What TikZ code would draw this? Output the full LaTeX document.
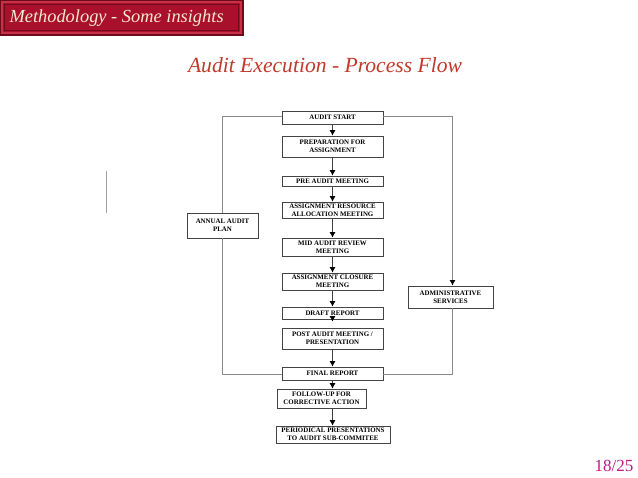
\documentclass[tikz,border=0pt]{standalone}
\usepackage{fontspec}
\setmainfont{Liberation Serif}
\usetikzlibrary{arrows.meta}
\definecolor{barred}{HTML}{A8102C}
\definecolor{bardark}{HTML}{6E0A1C}
\definecolor{barlight}{HTML}{C8304A}
\definecolor{cream}{HTML}{F6E8CC}
\definecolor{titlered}{HTML}{C0392B}
\definecolor{pagemag}{HTML}{C0168C}
\definecolor{linegray}{HTML}{8A8A8A}
\definecolor{boxgray}{HTML}{444444}
\tikzset{
  flowbox/.style={draw=boxgray, line width=0.8pt, fill=white, rectangle, inner sep=0pt,
    align=center, font=\fontsize{6.9}{7.8}\selectfont\bfseries, text=black},
  flowarrow/.style={draw=black!75, line width=0.7pt, -{Latex[length=5.5pt,width=6pt,color=black]}},
  sideline/.style={draw=linegray, line width=1pt},
  sidearrow/.style={draw=linegray, line width=1pt, -{Latex[length=5.5pt,width=6pt,color=black]}},
}
\begin{document}
\begin{tikzpicture}[x=1pt,y=-1pt]
\useasboundingbox (0,0) rectangle (638,478);
% header bar
\fill[bardark] (0,0) rectangle (244,36);
\fill[barlight] (1,1) rectangle (242,34);
\fill[barred] (3,3) rectangle (240,32);
\draw[bardark, line width=0.8pt] (4.5,4.5) rectangle (238.5,30.5);
\node[anchor=west, text=cream, font=\fontsize{18.4}{22}\selectfont\itshape] (hdr) at (6,18) {Methodology - Some insights};
% title
\node[text=titlered, font=\fontsize{21.6}{26}\selectfont\itshape] (title) at (325,65) {Audit Execution - Process Flow};
% page number
\node[anchor=east, text=pagemag, font=\fontsize{17}{20}\selectfont] (pg) at (637,466) {18/25};
% stray gray line
\draw[linegray!80, line width=1pt] (106,171) -- (106,213);
% main column
\node[flowbox, minimum width=101pt, minimum height=13pt] (start) at (332.5,117.5) {AUDIT START};
\node[flowbox, minimum width=101pt, minimum height=21pt] (prep) at (332.5,146.5) {PREPARATION FOR\\ASSIGNMENT};
\node[flowbox, minimum width=101pt, minimum height=10pt] (pre) at (332.5,181) {PRE AUDIT MEETING};
\node[flowbox, minimum width=101pt, minimum height=16pt] (alloc) at (332.5,210) {ASSIGNMENT RESOURCE\\ALLOCATION MEETING};
\node[flowbox, minimum width=101pt, minimum height=18pt] (mid) at (332.5,247) {MID AUDIT REVIEW\\MEETING};
\node[flowbox, minimum width=101pt, minimum height=17pt] (close) at (332.5,281.5) {ASSIGNMENT CLOSURE\\MEETING};
\node[flowbox, minimum width=101pt, minimum height=12pt] (draft) at (332.5,313) {DRAFT REPORT};
\node[flowbox, minimum width=101pt, minimum height=21pt] (post) at (332.5,338.5) {POST AUDIT MEETING /\\PRESENTATION};
\node[flowbox, minimum width=101pt, minimum height=13pt] (final) at (332.5,373.5) {FINAL REPORT};
\node[flowbox, minimum width=89pt, minimum height=19pt] (follow) at (321.5,398.5) {FOLLOW-UP FOR\\CORRECTIVE ACTION};
\node[flowbox, minimum width=114pt, minimum height=17pt] (period) at (333,434.5) {PERIODICAL PRESENTATIONS\\TO AUDIT SUB-COMMITEE};
% side boxes
\node[flowbox, minimum width=71pt, minimum height=25pt] (annual) at (222.5,225.5) {ANNUAL AUDIT\\PLAN};
\node[flowbox, minimum width=85pt, minimum height=22pt] (admin) at (450.5,297) {ADMINISTRATIVE\\SERVICES};
% corners
\coordinate (lt) at (222,117);
\coordinate (lb) at (222,374.5);
\coordinate (rt) at (452.5,117);
\coordinate (rb) at (452.5,374.5);
% main arrows
\draw[flowarrow] (start) -- (prep);
\draw[flowarrow] (prep) -- (pre);
\draw[flowarrow] (pre) -- (alloc);
\draw[flowarrow] (alloc) -- (mid);
\draw[flowarrow] (mid) -- (close);
\draw[flowarrow] (close) -- (draft);
\draw[flowarrow] (draft.south) -- ([yshift=6pt]post.north);
\draw[flowarrow] (post) -- (final);
\draw[flowarrow] (final.south) -- (final.south |- follow.north);
\draw[flowarrow] (final.south |- follow.south) -- (final.south |- period.north);
% side lines
\draw[sideline] (start.west |- lt) -- (lt) -- (annual.north -| lt);
\draw[sideline] (annual.south -| lb) -- (lb) -- (final.west |- lb);
\draw[sidearrow] (start.east |- rt) -- (rt) -- (admin.north -| rt);
\draw[sideline] (admin.south -| rb) -- (rb) -- (final.east |- rb);
\end{tikzpicture}
\end{document}
